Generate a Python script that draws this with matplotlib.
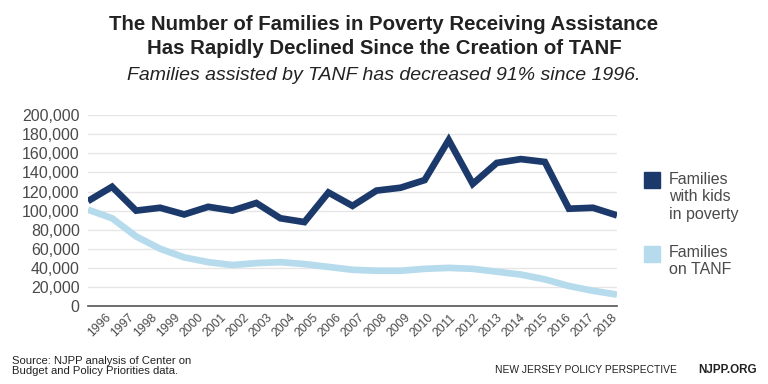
import matplotlib
matplotlib.use("Agg")
import matplotlib.pyplot as plt
from matplotlib.patches import Rectangle

plt.rcParams['font.family'] = ['Liberation Sans', 'DejaVu Sans']

years = list(range(1996, 2019))
poverty = [110000, 125000, 100000, 103000, 96000, 104000, 100000, 108000, 92000, 88000,
           119000, 105000, 121000, 124000, 132000, 174000, 128000, 150000, 154000, 151000,
           102000, 103000, 95000]
tanf = [101000, 92000, 73000, 60000, 51000, 46000, 43000, 45000, 46000, 44000,
        41000, 38000, 37000, 37000, 39000, 40000, 39000, 36000, 33000, 28000,
        21000, 16000, 12000]

dark = "#1b3a6b"
light = "#b5dbed"
grey = "#4a4a4a"

fig = plt.figure(figsize=(7.68, 3.84), dpi=100)
ax = fig.add_axes([88 / 768, 0.203, 529 / 768, 0.497])

ax.plot(years, tanf, color=light, lw=4.8, solid_joinstyle='round', solid_capstyle='butt', zorder=3)
ax.plot(years, poverty, color=dark, lw=4.8, solid_joinstyle='miter', solid_capstyle='butt', zorder=4)

n = len(years)
ax.set_xlim(years[0], years[-1])
ax.set_ylim(0, 200000)
ax.set_yticks(range(0, 200001, 20000))
ax.set_yticklabels([f"{v:,}" for v in range(0, 200001, 20000)], fontsize=11.5, color=grey)
# labels sit in the middle of equal slots along the axis
span = years[-1] - years[0]
ax.set_xticks([years[0] + (i + 0.5) * span / n for i in range(n)])
ax.set_xticklabels([str(y) for y in years], rotation=45, ha='center',
                   fontsize=8.7, color=grey)
ax.tick_params(length=0, pad=6)
ax.tick_params(axis='x', pad=4)
ax.grid(axis='y', color="#e6e6e6", lw=1)
ax.grid(axis='x', visible=False)
ax.set_axisbelow(True)
for s in ['top', 'right', 'left']:
    ax.spines[s].set_visible(False)
ax.spines['bottom'].set_color("#555555")
ax.spines['bottom'].set_linewidth(1.2)
ax.spines['bottom'].set_zorder(5)

# legend
fig.patches.append(Rectangle((644 / 768, 1 - 188 / 384), 16 / 768, 16 / 384, color=dark,
                             transform=fig.transFigure))
fig.patches.append(Rectangle((644 / 768, 1 - 262 / 384), 16 / 768, 16 / 384, color=light,
                             transform=fig.transFigure))
fig.text(669 / 768, 1 - 172 / 384, "Families\nwith kids\nin poverty", fontsize=11.5,
         color=grey, va='top', ha='left', linespacing=1.2)
fig.text(669 / 768, 1 - 245 / 384, "Families\non TANF", fontsize=11.5,
         color=grey, va='top', ha='left', linespacing=1.2)

fig.text(0.5, 1 - 25 / 384, "The Number of Families in Poverty Receiving Assistance",
         ha='center', va='center', fontsize=14.7, fontweight='bold', color="#222222")
fig.text(0.5, 1 - 49 / 384, "Has Rapidly Declined Since the Creation of TANF",
         ha='center', va='center', fontsize=14.7, fontweight='bold', color="#222222")
fig.text(0.5, 1 - 75 / 384, "Families assisted by TANF has decreased 91% since 1996.",
         ha='center', va='center', fontsize=14, style='italic', color="#222222")

fig.text(12 / 768, 1 - 366 / 384, "Source: NJPP analysis of Center on\nBudget and Policy Priorities data.",
         ha='left', va='center', fontsize=8.1, color="#222222", linespacing=1.1)
fig.text(677 / 768, 1 - 370 / 384, "NEW JERSEY POLICY PERSPECTIVE", ha='right', va='center',
         fontsize=7.4, color="#222222")
fig.text(698 / 768, 1 - 370 / 384, "NJPP.ORG", ha='left', va='center',
         fontsize=8.4, fontweight='bold', color="#222222")

fig.savefig("out.png", dpi=100)
